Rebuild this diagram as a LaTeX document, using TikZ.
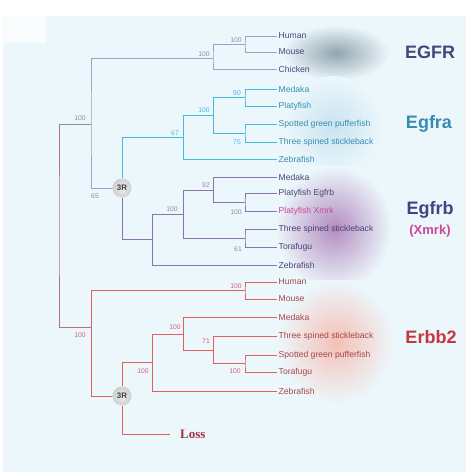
\documentclass[tikz,border=0pt]{standalone}
\usepackage{fontspec}
\setmainfont{Liberation Serif}
\setsansfont{Liberation Sans}
\usetikzlibrary{positioning,calc}
\definecolor{panelbg}{RGB}{236,247,251}
\definecolor{cornerbg}{RGB}{249,252,253}
\definecolor{egfrline}{RGB}{160,160,200}
\definecolor{egfrtext}{RGB}{70,70,125}
\definecolor{egfraline}{RGB}{70,185,220}
\definecolor{egfratext}{RGB}{55,140,180}
\definecolor{egfrbline}{RGB}{140,115,170}
\definecolor{egfrbtext}{RGB}{75,65,115}
\definecolor{xmrk}{RGB}{205,70,150}
\definecolor{erbbline}{RGB}{225,95,95}
\definecolor{erbbtext}{RGB}{165,70,75}
\definecolor{erbbboot}{RGB}{215,95,130}
\definecolor{rootline}{RGB}{175,120,115}
\definecolor{rootgray}{RGB}{150,140,150}
\definecolor{bootgray}{RGB}{140,140,165}
\definecolor{egfrglow}{RGB}{145,165,175}
\definecolor{egfraglow}{RGB}{200,228,240}
\definecolor{egfrbglow}{RGB}{178,140,192}
\definecolor{erbbglow}{RGB}{245,192,182}
\definecolor{egfrbname}{RGB}{70,65,130}
\definecolor{erbbname}{RGB}{195,55,65}
\definecolor{losstext}{RGB}{160,50,65}

\begin{document}
\begin{tikzpicture}[x=1pt, y=-1pt,
  tip/.style={anchor=west, inner sep=1.5pt, font=\sffamily\fontsize{8.6}{9}\selectfont},
  boot/.style={inner sep=0pt, font=\sffamily\fontsize{6.8}{7}\selectfont},
  clade/.style={inner sep=0pt, font=\sffamily\bfseries\fontsize{18}{20}\selectfont},
  branch/.style={line width=0.9pt},
  dup/.style={circle, minimum size=19pt, inner sep=0pt, inner color=gray!12, outer color=gray!38,
    font=\sffamily\bfseries\fontsize{8}{9}\selectfont, text=black!75}]
  \useasboundingbox (0,0) rectangle (474,474);
  \fill[white] (0,0) rectangle (474,474);
  \fill[panelbg] (3,16) rectangle (466,472);
  \fill[cornerbg] (3,16) rectangle (46,43);

  \shade[inner color=egfrglow, outer color=panelbg, rounded corners=8pt] (282,25) rectangle (390,81);
  \shade[inner color=egfraglow, outer color=panelbg] (333,126) circle (50);
  \shade[inner color=egfrbglow, outer color=panelbg, rounded corners=10pt] (276,166) rectangle (392,290);
  \shade[inner color=erbbglow, outer color=panelbg, rounded corners=10pt] (278,280) rectangle (394,404);

  \node[tip, text=egfrtext] (hsa1) at (277,36) {Human};
  \node[tip, text=egfrtext] (mmu1) at (277,52) {Mouse};
  \node[tip, text=egfrtext] (gga1) at (277,69) {Chicken};
  \node[tip, text=egfratext] (ola2) at (277,89) {Medaka};
  \node[tip, text=egfratext] (xma2) at (277,106) {Platyfish};
  \node[tip, text=egfratext] (tni2) at (277,124) {Spotted green pufferfish};
  \node[tip, text=egfratext] (gac2) at (277,142) {Three spined stickleback};
  \node[tip, text=egfratext] (dre2) at (277,159) {Zebrafish};
  \node[tip, text=egfrbtext] (ola3) at (277,177) {Medaka};
  \node[tip, text=egfrbtext] (xma3) at (277,193) {Platyfish Egfrb};
  \node[tip, text=xmrk] (xmrk3) at (277,211) {Platyfish Xmrk};
  \node[tip, text=egfrbtext] (gac3) at (277,229) {Three spined stickleback};
  \node[tip, text=egfrbtext] (tru3) at (277,247) {Torafugu};
  \node[tip, text=egfrbtext] (dre3) at (277,265) {Zebrafish};
  \node[tip, text=erbbtext] (hsa4) at (277,282) {Human};
  \node[tip, text=erbbtext] (mmu4) at (277,299) {Mouse};
  \node[tip, text=erbbtext] (ola4) at (277,317) {Medaka};
  \node[tip, text=erbbtext] (gac4) at (277,336) {Three spined stickleback};
  \node[tip, text=erbbtext] (tni4) at (277,355) {Spotted green pufferfish};
  \node[tip, text=erbbtext] (tru4) at (277,372) {Torafugu};
  \node[tip, text=erbbtext] (dre4) at (277,391) {Zebrafish};

  \node[clade, text=egfrtext] (egfr) at (430,52) {EGFR};
  \node[clade, text=egfratext] (egfra) at (429,124) {Egfra};
  \node[clade, text=egfrbname] (egfrb) at (430,210) {Egfrb};
  \node[inner sep=0pt, text=xmrk, font=\sffamily\bfseries\fontsize{13}{14}\selectfont, below=6pt of egfrb] (xmrkname) {(Xmrk)};
  \node[clade, text=erbbname] (erbb2) at (431,337) {Erbb2};

  \coordinate (e1) at (245,44);
  \coordinate (e2) at (213,58);
  \coordinate (a1) at (91,124);
  \coordinate (r0) at (59,225);
  \node[dup] (dup1) at (122,188) {3R};
  \coordinate (f1) at (183,137);
  \coordinate (f2) at (213,115);
  \coordinate (f3) at (245,97.5);
  \coordinate (f4) at (245,133);
  \coordinate (g1) at (152,239);
  \coordinate (g2) at (183,214);
  \coordinate (g3) at (213,190);
  \coordinate (g4) at (245,202);
  \coordinate (g5) at (245,238);
  \coordinate (b1) at (91,327);
  \coordinate (h1) at (245,290.5);
  \node[dup] (dup2) at (122,396) {3R};
  \coordinate (k1) at (152,362);
  \coordinate (k2) at (183,334);
  \coordinate (k3) at (213,350);
  \coordinate (k4) at (245,363.5);
  \node[anchor=west, inner sep=0pt, text=losstext, font=\bfseries\fontsize{13}{14}\selectfont] (loss) at (180,434) {Loss};
  \coordinate (lossend) at (170,434);

  \draw[branch, egfrline] (hsa1.west) -| (e1) |- (mmu1.west);
  \draw[branch, egfrline] (e1) -| (e2) |- (gga1.west);
  \draw[branch, egfrline] (e2) -| (a1) |- (dup1.west);

  \draw[branch, egfraline] (dup1.north) |- (f1);
  \draw[branch, egfraline] (f1) |- (f2);
  \draw[branch, egfraline] (f1) |- (dre2.west);
  \draw[branch, egfraline] (f2) |- (f3);
  \draw[branch, egfraline] (f2) |- (f4);
  \draw[branch, egfraline] (ola2.west) -| (f3) |- (xma2.west);
  \draw[branch, egfraline] (tni2.west) -| (f4) |- (gac2.west);

  \draw[branch, egfrbline] (dup1.south) |- (g1);
  \draw[branch, egfrbline] (g1) |- (g2);
  \draw[branch, egfrbline] (g1) |- (dre3.west);
  \draw[branch, egfrbline] (g2) |- (g3);
  \draw[branch, egfrbline] (g2) |- (g5);
  \draw[branch, egfrbline] (g3) |- (ola3.west);
  \draw[branch, egfrbline] (g3) |- (g4);
  \draw[branch, egfrbline] (xma3.west) -| (g4) |- (xmrk3.west);
  \draw[branch, egfrbline] (gac3.west) -| (g5) |- (tru3.west);

  \draw[branch, rootgray] (a1) -- (a1 -| r0);
  \draw[branch, rootline] (a1 -| r0) -- (r0) |- (b1);

  \draw[branch, erbbline] (b1) |- (h1);
  \draw[branch, erbbline] (b1) |- (dup2.west);
  \draw[branch, erbbline] (hsa4.west) -| (h1) |- (mmu4.west);
  \draw[branch, erbbline] (dup2.north) |- (k1);
  \draw[branch, erbbline] (dup2.south) |- (lossend);
  \draw[branch, erbbline] (k1) |- (k2);
  \draw[branch, erbbline] (k1) |- (dre4.west);
  \draw[branch, erbbline] (k2) |- (ola4.west);
  \draw[branch, erbbline] (k2) |- (k3);
  \draw[branch, erbbline] (k3) |- (gac4.west);
  \draw[branch, erbbline] (k3) |- (k4);
  \draw[branch, erbbline] (tni4.west) -| (k4) |- (tru4.west);

  \node[boot, text=bootgray] (s1) at (236,40) {100};
  \node[boot, text=bootgray] (s2) at (204,54) {100};
  \node[boot, text=bootgray] (s3) at (80,118) {100};
  \node[boot, text=bootgray] (s4) at (95,196) {65};
  \node[boot, text=egfraline] (s5) at (175,133) {67};
  \node[boot, text=egfraline] (s6) at (204,110) {100};
  \node[boot, text=egfraline] (s7) at (237,93) {90};
  \node[boot, text=egfraline] (s8) at (237,142) {75};
  \node[boot, text=bootgray] (s9) at (172,209) {100};
  \node[boot, text=bootgray] (s10) at (206,185) {92};
  \node[boot, text=bootgray] (s11) at (236,212) {100};
  \node[boot, text=bootgray] (s12) at (238,249) {61};
  \node[boot, text=erbbboot] (s13) at (236,286) {100};
  \node[boot, text=erbbboot] (s14) at (80,335) {100};
  \node[boot, text=erbbboot] (s15) at (143,371) {100};
  \node[boot, text=erbbboot] (s16) at (175,327) {100};
  \node[boot, text=erbbboot] (s17) at (206,341) {71};
  \node[boot, text=erbbboot] (s18) at (235,371) {100};
\end{tikzpicture}
\end{document}
